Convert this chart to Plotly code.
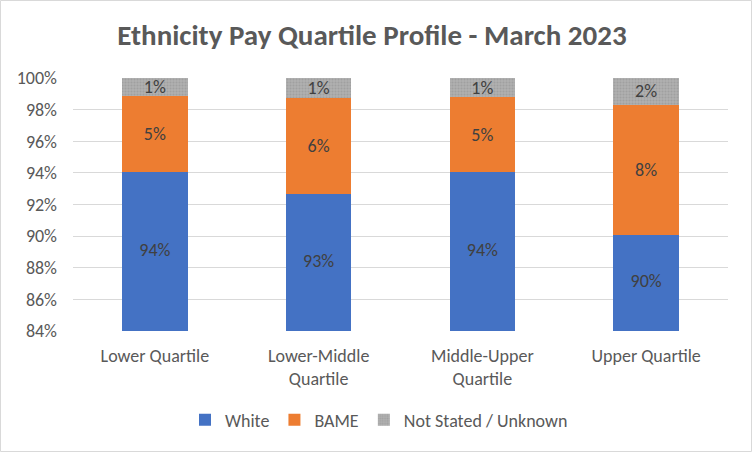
import plotly.graph_objects as go

# =====================================================
# DATA
# =====================================================
quartiles = ["Lower Quartile", "Lower-Middle<br>Quartile", "Middle-Upper<br>Quartile", "Upper Quartile"]
white = [94.06, 92.67, 94.06, 90.08]
bame = [4.80, 6.07, 4.72, 8.22]
not_stated = [1.14, 1.26, 1.22, 1.70]

y_ticks = [84, 86, 88, 90, 92, 94, 96, 98, 100]
Y_MIN, Y_MAX = 84, 100

FONT = "Carlito, Calibri, Lato, sans-serif"
TXT = "#595959"
LABEL = "#404040"

# pixel layout of the original chart
W, H = 752, 452
L, R, T, B = 73, 24, 78, 121


def px_x(p):
    return (p - L) / (W - L - R)


def px_y(p):
    return (H - B - p) / (H - T - B)


# =====================================================
# FIGURE
# =====================================================
fig = go.Figure()

series = [
    ("White", white, dict(color="#4472c4")),
    ("BAME", bame, dict(color="#ed7d31")),
    ("Not Stated / Unknown", not_stated,
     dict(color="#a5a5a5",
          pattern=dict(shape=".", fgcolor="#8f8f8f", bgcolor="#b0b0b0",
                       size=3, solidity=0.4))),
]

for name, vals, marker in series:
    fig.add_trace(go.Bar(
        x=quartiles,
        y=vals,
        name=name,
        marker=marker,
        marker_line_width=0,
        text=[f"{v:.0f}%" for v in vals],
        # white bars start at 0, so their labels go on separately below
        textposition="none" if name == "White" else "inside",
        insidetextanchor="middle",
        textfont=dict(family=FONT, size=18, color=LABEL),
        constraintext="none",
    ))

# white labels sit in the middle of the visible part of the bar
fig.add_trace(go.Scatter(
    x=quartiles,
    y=[(Y_MIN + v) / 2 for v in white],
    mode="text",
    text=[f"{v:.0f}%" for v in white],
    textfont=dict(family=FONT, size=18, color=LABEL),
    showlegend=False,
    hoverinfo="skip",
))

# outer chart border
fig.add_shape(
    type="rect", xref="paper", yref="paper",
    x0=px_x(0.5), x1=px_x(W - 0.5), y0=px_y(H - 0.5), y1=px_y(0.5),
    line=dict(color="#d9d9d9", width=1),
)

fig.update_layout(
    width=W, height=H,
    barmode="stack",
    bargap=0.6,
    margin=dict(l=L, r=R, t=T, b=B, autoexpand=False),
    paper_bgcolor="white",
    plot_bgcolor="white",
    font=dict(family=FONT, color=TXT, size=18),
    title=dict(
        text="<b>Ethnicity Pay Quartile Profile - March 2023</b>",
        x=px_x(372), xref="paper", xanchor="center",
        y=1 - 35 / H, yanchor="middle",
        font=dict(family=FONT, size=29, color=TXT),
    ),
    legend=dict(
        orientation="h",
        x=px_x(379), xanchor="center",
        y=px_y(420), yanchor="middle",
        font=dict(family=FONT, size=18, color=TXT),
        itemwidth=30,
        traceorder="normal",
    ),
    xaxis=dict(
        showgrid=False,
        showline=False,
        tickfont=dict(family=FONT, size=18, color=TXT),
        ticks="",
        ticklabelstandoff=12,
    ),
    yaxis=dict(
        range=[Y_MIN, Y_MAX],
        tickvals=y_ticks,
        ticktext=[f"{t}%" for t in y_ticks],
        showgrid=True,
        gridcolor="#d9d9d9",
        gridwidth=1,
        zeroline=False,
        tickfont=dict(family=FONT, size=18, color=TXT),
        ticks="",
        ticklabelstandoff=15,
    ),
)

# drop the browser's default body margin so the chart fills the window
fig.write_html(
    "out.html",
    config={"displayModeBar": False},
    post_script="document.body.style.margin='0';",
)
